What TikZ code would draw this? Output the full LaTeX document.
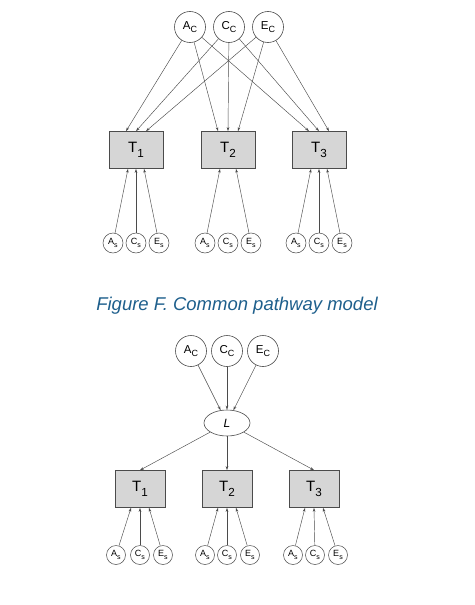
\documentclass[tikz,border=0pt]{standalone}
\usepackage{fontspec}
\setmainfont{Liberation Sans}
\usetikzlibrary{arrows.meta,shapes.geometric}
\definecolor{capblue}{RGB}{30,95,140}
\definecolor{boxgray}{RGB}{214,214,214}
\definecolor{linegray}{RGB}{75,75,75}
\newcommand{\lowidx}[1]{\raisebox{-0.3em}{\scalebox{0.78}{#1}}}
\begin{document}
\begin{tikzpicture}[x=1pt,y=-1pt,
    latent/.style={circle,draw=linegray,line width=0.6pt,minimum size=31pt,inner sep=0pt,
      font=\fontsize{11.5}{13}\selectfont},
    specific/.style={circle,draw=linegray,line width=0.5pt,minimum size=20pt,inner sep=0pt,
      font=\fontsize{9}{10}\selectfont},
    trait/.style={rectangle,draw=linegray,fill=boxgray,line width=0.7pt,minimum width=54pt,
      minimum height=37pt,inner sep=0pt,font=\fontsize{15}{17}\selectfont},
    common/.style={ellipse,draw=linegray,line width=0.6pt,minimum width=46pt,minimum height=26pt,
      inner sep=0pt,font=\fontsize{12}{14}\selectfont\itshape},
    path/.style={-{Stealth[length=4pt,width=2.6pt]},draw=linegray,line width=0.45pt}]
  \useasboundingbox (0,0) rectangle (474,605);
  \draw
    (190,27) node[latent] (ac) {A\lowidx{C}}
    (229,27) node[latent] (cc) {C\lowidx{C}}
    (268,27) node[latent] (ec) {E\lowidx{C}}
    (136,150) node[trait] (t1) {T\lowidx{1}}
    (228,150) node[trait] (t2) {T\lowidx{2}}
    (319,150) node[trait] (t3) {T\lowidx{3}}
    (113,243) node[specific] (as1) {A\lowidx{s}}
    (136,243) node[specific] (cs1) {C\lowidx{s}}
    (159,243) node[specific] (es1) {E\lowidx{s}}
    (205,243) node[specific] (as2) {A\lowidx{s}}
    (228,243) node[specific] (cs2) {C\lowidx{s}}
    (251,243) node[specific] (es2) {E\lowidx{s}}
    (296,243) node[specific] (as3) {A\lowidx{s}}
    (319,243) node[specific] (cs3) {C\lowidx{s}}
    (342,243) node[specific] (es3) {E\lowidx{s}};
  \begin{scope}[path]
    \draw (ac) to ([xshift=-10pt]t1.north);
    \draw (ac) to ([xshift=-10pt]t2.north);
    \draw (ac) to ([xshift=-10pt]t3.north);
    \draw (cc) to (t1.north);
    \draw (cc) to (t2.north);
    \draw (cc) to (t3.north);
    \draw (ec) to ([xshift=10pt]t1.north);
    \draw (ec) to ([xshift=10pt]t2.north);
    \draw (ec) to ([xshift=10pt]t3.north);
    \draw (as1) to ([xshift=-8pt]t1.south);
    \draw (cs1) to (t1.south);
    \draw (es1) to ([xshift=8pt]t1.south);
    \draw (as2) to ([xshift=-8pt]t2.south);
    \draw (es2) to ([xshift=8pt]t2.south);
    \draw (as3) to ([xshift=-8pt]t3.south);
    \draw (cs3) to (t3.south);
    \draw (es3) to ([xshift=8pt]t3.south);
  \end{scope}
  \node[font=\fontsize{18.5}{22}\selectfont\itshape,text=capblue] (caption) at (237,306)
    {Figure F. Common pathway model};
  \draw
    (191,351) node[latent] (acl) {A\lowidx{C}}
    (227,351) node[latent] (ccl) {C\lowidx{C}}
    (263,351) node[latent] (ecl) {E\lowidx{C}}
    (227,423) node[common] (l) {L}
    (140,489) node[trait,minimum width=50pt] (tl1) {T\lowidx{1}}
    (227,489) node[trait,minimum width=50pt] (tl2) {T\lowidx{2}}
    (314,489) node[trait,minimum width=50pt] (tl3) {T\lowidx{3}}
    (116,555) node[specific,minimum size=19pt] (asl1) {A\lowidx{s}}
    (140,555) node[specific,minimum size=19pt] (csl1) {C\lowidx{s}}
    (163,555) node[specific,minimum size=19pt] (esl1) {E\lowidx{s}}
    (205,555) node[specific,minimum size=19pt] (asl2) {A\lowidx{s}}
    (227,555) node[specific,minimum size=19pt] (csl2) {C\lowidx{s}}
    (250,555) node[specific,minimum size=19pt] (esl2) {E\lowidx{s}}
    (293,555) node[specific,minimum size=19pt] (asl3) {A\lowidx{s}}
    (315,555) node[specific,minimum size=19pt] (csl3) {C\lowidx{s}}
    (338,555) node[specific,minimum size=19pt] (esl3) {E\lowidx{s}};
  \begin{scope}[path]
    \draw (acl) to (l);
    \draw (ccl) to (l);
    \draw (ecl) to (l);
    \draw (l) to (tl1.north);
    \draw (l) to (tl2.north);
    \draw (l) to (tl3.north);
    \draw (asl1) to ([xshift=-9pt]tl1.south);
    \draw (csl1) to (tl1.south);
    \draw (esl1) to ([xshift=9pt]tl1.south);
    \draw (asl2) to ([xshift=-9pt]tl2.south);
    \draw (csl2) to (tl2.south);
    \draw (esl2) to ([xshift=9pt]tl2.south);
    \draw (asl3) to ([xshift=-9pt]tl3.south);
    \draw (csl3) to (tl3.south);
    \draw (esl3) to ([xshift=9pt]tl3.south);
  \end{scope}
\end{tikzpicture}
\end{document}
